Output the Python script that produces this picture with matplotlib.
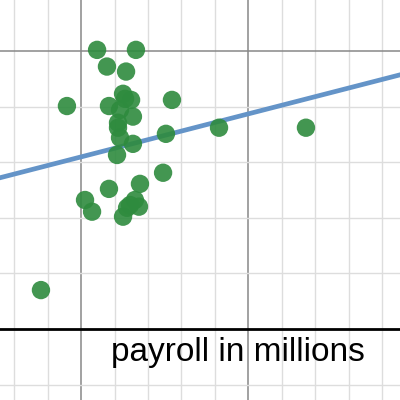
import matplotlib
matplotlib.use("Agg")
import matplotlib.pyplot as plt
import numpy as np

payroll = [109.6,132.8,115.5,126.9,91.6,116.7,125.1,129.9,126.3,123.3,131.0,122.1,122.1,123.3,131.0,121.5,
           154.3,150.7,182.4,234.3,149.0,135.2,116.7,102.4,106.6,125.1,127.5,132.2,134.6,129.3,76.1]
winpct = [0.502,0.502,0.472,0.463,0.401,0.401,0.423,0.412,0.414,0.394,0.382,0.371,0.362,0.344,0.333,0.313,
          0.412,0.351,0.362,0.362,0.281,0.261,0.252,0.232,0.211,0.202,0.218,0.232,0.220,0.223,0.070]
slope = 0.000775
intercept = 0.232

fig = plt.figure(figsize=(4,4), dpi=100)
ax = fig.add_axes([0,0,1,1])
xmin, xmax = 51.64, 290.45
ymin, ymax = -0.1277, 0.5917
ax.set_xlim(xmin, xmax); ax.set_ylim(ymin, ymax)
for x in np.arange(20, 300, 20):
    major = (x % 100 == 0)
    ax.axvline(x, color='#888888' if major else '#dddddd', lw=1.1 if major else 1.0, zorder=0)
for y in np.arange(-0.1, 0.6, 0.1):
    y = round(y, 2)
    major = abs(y - 0.5) < 1e-9
    ax.axhline(y, color='#888888' if major else '#dddddd', lw=1.1 if major else 1.0, zorder=0)
ax.axhline(0, color='black', lw=2, zorder=1)
xs = np.array([xmin, xmax])
ax.plot(xs, intercept + slope*xs, color='#6494c8', lw=3.4, zorder=2)
ax.scatter(payroll, winpct, s=175, color='#2e8b3e', alpha=0.9, edgecolors='none', zorder=3)
ax.text(111/400, 1-352/400, 'payroll in millions', transform=ax.transAxes, fontsize=24,
        family='Liberation Sans', va='center', ha='left', color='black')
ax.set_xticks([]); ax.set_yticks([])
for s in ax.spines.values(): s.set_visible(False)
fig.savefig('out.png', dpi=100)
